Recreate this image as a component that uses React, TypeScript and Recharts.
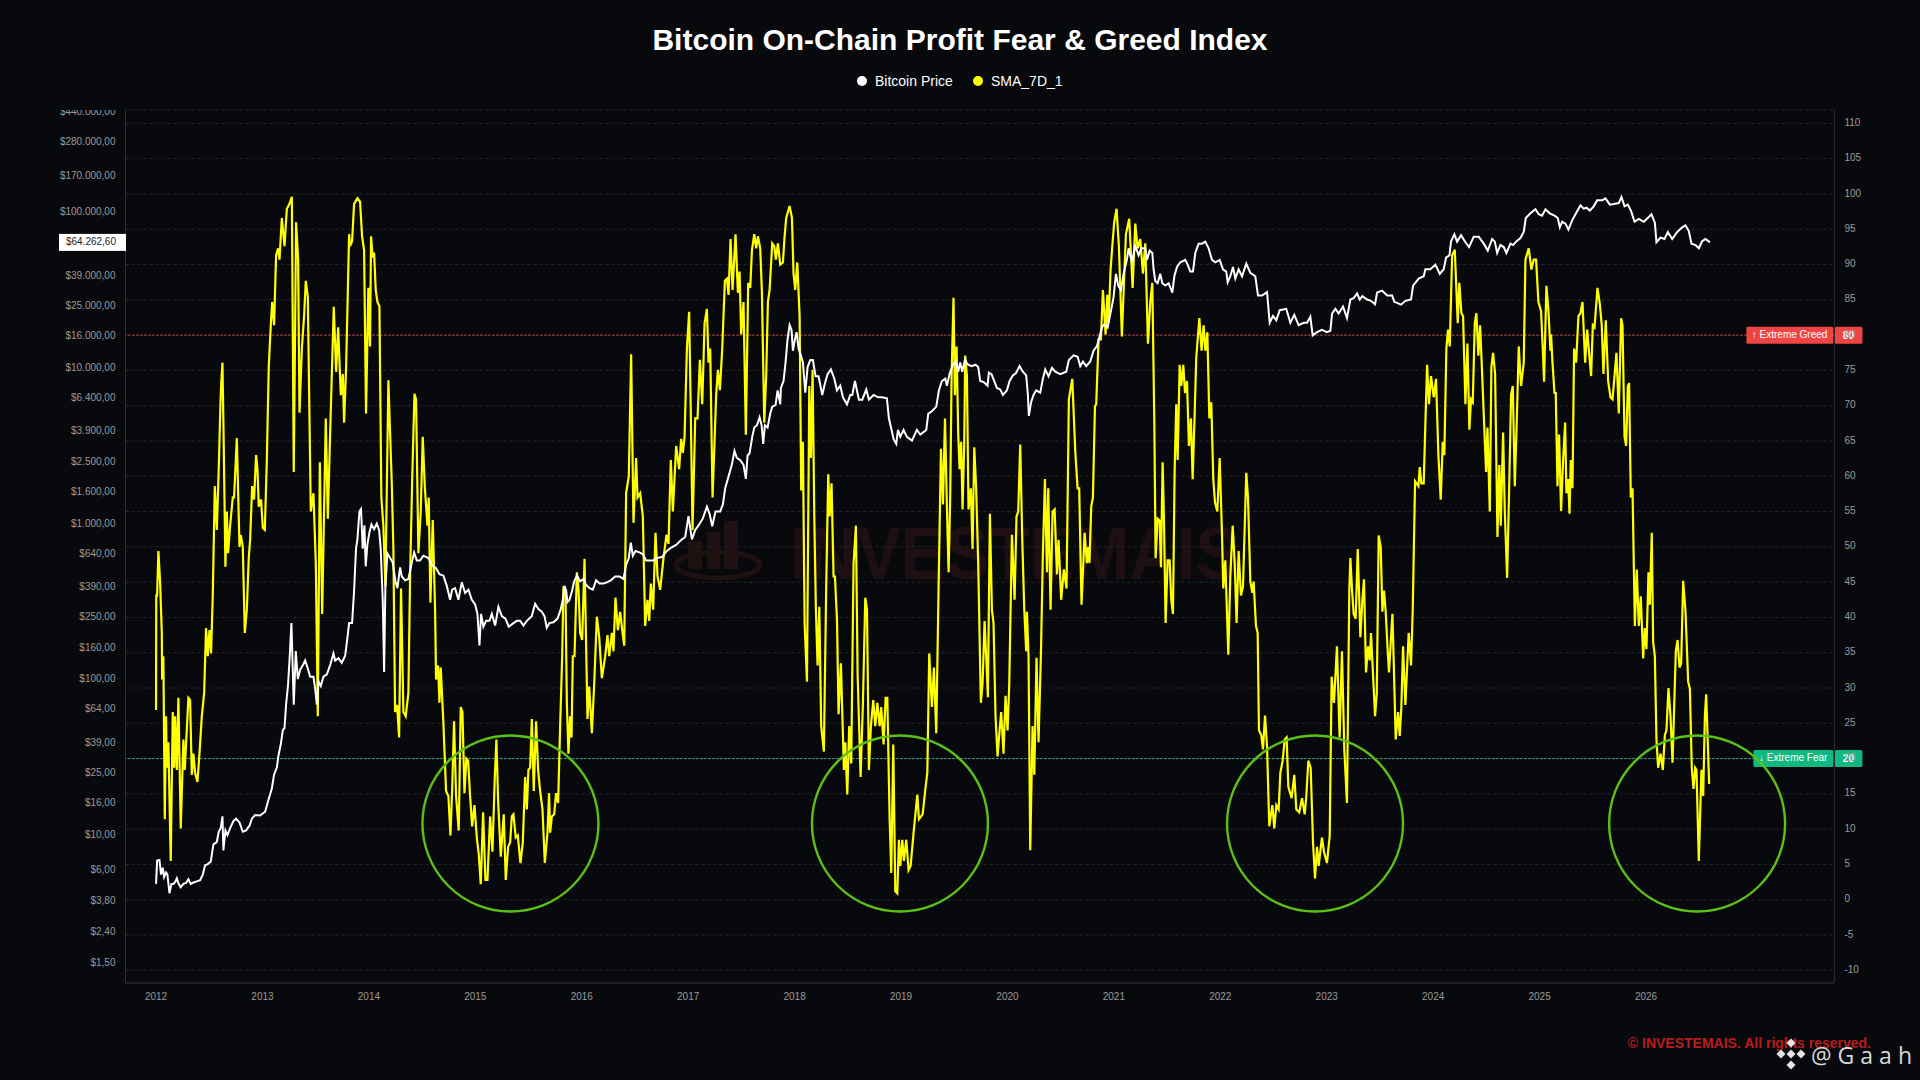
import { CartesianGrid, ComposedChart, Line, ReferenceDot, ReferenceLine, XAxis, YAxis } from "recharts";

const BG = "#08090c";
const AXIS_TEXT = "#9a9a9a";
const AXIS_LINE = "#2c2f33";
const GRID = "#26282c";
const YELLOW = "#ffff00";
const WHITE = "#ffffff";
const RED = "#ef4444";
const GREEN = "#10b981";
const FONT = "'Liberation Sans', Arial, sans-serif";

const yearTicks = [2012, 2013, 2014, 2015, 2016, 2017, 2018, 2019, 2020, 2021, 2022, 2023, 2024, 2025, 2026];
const indexTicks = [-10, -5, 0, 5, 10, 15, 20, 25, 30, 35, 40, 45, 50, 55, 60, 65, 70, 75, 80, 85, 90, 95, 100, 105, 110];
const priceTicks = [440000, 280000, 170000, 100000, 39000, 25000, 16000, 10000, 6400, 3900, 2500, 1600, 1000, 640, 390, 250, 160, 100, 64, 39, 25, 16, 10, 6, 3.8, 2.4, 1.5];
const priceTickLabels = ["$440.000,00", "$280.000,00", "$170.000,00", "$100.000,00", "$39.000,00", "$25.000,00", "$16.000,00", "$10.000,00", "$6.400,00", "$3.900,00", "$2.500,00", "$1.600,00", "$1.000,00", "$640,00", "$390,00", "$250,00", "$160,00", "$100,00", "$64,00", "$39,00", "$25,00", "$16,00", "$10,00", "$6,00", "$3,80", "$2,40", "$1,50"];

const X_DOMAIN = [2011.713, 2027.77];
const LAST_PRICE = 64262.6;
const fearGreedCircles = [
  { t: 2015.33, v: 10.8 },
  { t: 2018.99, v: 10.8 },
  { t: 2022.89, v: 10.8 },
  { t: 2026.48, v: 10.8 },
];

const priceDates = [
  2012.000, 2012.010, 2012.032, 2012.047, 2012.063, 2012.076, 2012.094, 2012.107, 2012.126, 2012.145, 2012.163, 2012.182, 2012.195, 2012.213, 2012.232, 2012.257, 2012.282, 2012.304, 2012.326, 2012.351,
  2012.376, 2012.414, 2012.439, 2012.461, 2012.483, 2012.514, 2012.539, 2012.571, 2012.589, 2012.608, 2012.624, 2012.633, 2012.652, 2012.671, 2012.696, 2012.727, 2012.752, 2012.784, 2012.815, 2012.846,
  2012.878, 2012.900, 2012.931, 2012.978, 2013.025, 2013.056, 2013.088, 2013.109, 2013.135, 2013.150, 2013.172, 2013.191, 2013.207, 2013.222, 2013.241, 2013.254, 2013.272, 2013.294, 2013.313, 2013.332,
  2013.354, 2013.379, 2013.401, 2013.423, 2013.448, 2013.479, 2013.495, 2013.511, 2013.526, 2013.548, 2013.573, 2013.605, 2013.636, 2013.667, 2013.683, 2013.714, 2013.745, 2013.777, 2013.799, 2013.814,
  2013.842, 2013.861, 2013.879, 2013.892, 2013.911, 2013.926, 2013.942, 2013.958, 2013.970, 2013.986, 2014.005, 2014.024, 2014.049, 2014.074, 2014.096, 2014.111, 2014.130, 2014.143, 2014.155, 2014.174,
  2014.199, 2014.224, 2014.249, 2014.268, 2014.293, 2014.309, 2014.340, 2014.371, 2014.403, 2014.425, 2014.450, 2014.481, 2014.512, 2014.559, 2014.591, 2014.631, 2014.663, 2014.700, 2014.732, 2014.763,
  2014.782, 2014.810, 2014.841, 2014.873, 2014.904, 2014.935, 2014.967, 2014.998, 2015.020, 2015.039, 2015.054, 2015.076, 2015.101, 2015.133, 2015.155, 2015.186, 2015.217, 2015.249, 2015.283, 2015.314,
  2015.358, 2015.390, 2015.421, 2015.452, 2015.484, 2015.530, 2015.562, 2015.593, 2015.624, 2015.650, 2015.671, 2015.696, 2015.734, 2015.772, 2015.803, 2015.822, 2015.838, 2015.853, 2015.866, 2015.885,
  2015.910, 2015.929, 2015.954, 2015.985, 2016.016, 2016.041, 2016.073, 2016.104, 2016.135, 2016.167, 2016.204, 2016.242, 2016.273, 2016.314, 2016.355, 2016.392, 2016.417, 2016.442, 2016.461, 2016.480,
  2016.505, 2016.543, 2016.574, 2016.605, 2016.637, 2016.674, 2016.706, 2016.753, 2016.800, 2016.837, 2016.887, 2016.931, 2016.972, 2017.003, 2017.035, 2017.066, 2017.097, 2017.138, 2017.176, 2017.201,
  2017.226, 2017.257, 2017.301, 2017.326, 2017.348, 2017.379, 2017.410, 2017.435, 2017.457, 2017.489, 2017.520, 2017.542, 2017.558, 2017.577, 2017.602, 2017.621, 2017.646, 2017.671, 2017.690, 2017.705,
  2017.721, 2017.746, 2017.771, 2017.790, 2017.821, 2017.840, 2017.865, 2017.871, 2017.896, 2017.915, 2017.934, 2017.953, 2017.971, 2017.984, 2018.003, 2018.019, 2018.037, 2018.059, 2018.078, 2018.100,
  2018.122, 2018.147, 2018.172, 2018.197, 2018.225, 2018.260, 2018.285, 2018.310, 2018.341, 2018.373, 2018.398, 2018.429, 2018.454, 2018.492, 2018.523, 2018.542, 2018.567, 2018.604, 2018.636, 2018.673,
  2018.698, 2018.742, 2018.786, 2018.821, 2018.867, 2018.886, 2018.908, 2018.930, 2018.955, 2018.971, 2018.993, 2019.024, 2019.055, 2019.102, 2019.149, 2019.181, 2019.237, 2019.256, 2019.290, 2019.331,
  2019.356, 2019.384, 2019.416, 2019.431, 2019.456, 2019.487, 2019.512, 2019.537, 2019.556, 2019.575, 2019.600, 2019.631, 2019.663, 2019.700, 2019.725, 2019.744, 2019.775, 2019.813, 2019.825, 2019.850,
  2019.876, 2019.901, 2019.932, 2019.957, 2019.995, 2020.020, 2020.051, 2020.079, 2020.114, 2020.145, 2020.176, 2020.192, 2020.201, 2020.223, 2020.245, 2020.270, 2020.308, 2020.333, 2020.355, 2020.386,
  2020.418, 2020.449, 2020.496, 2020.552, 2020.577, 2020.621, 2020.659, 2020.684, 2020.709, 2020.740, 2020.778, 2020.809, 2020.841, 2020.859, 2020.888, 2020.909, 2020.941, 2020.972, 2020.997, 2021.019,
  2021.041, 2021.066, 2021.091, 2021.122, 2021.138, 2021.169, 2021.201, 2021.232, 2021.257, 2021.295, 2021.311, 2021.336, 2021.361, 2021.373, 2021.389, 2021.411, 2021.436, 2021.455, 2021.483, 2021.514,
  2021.549, 2021.568, 2021.593, 2021.624, 2021.671, 2021.693, 2021.718, 2021.743, 2021.765, 2021.796, 2021.828, 2021.859, 2021.890, 2021.922, 2021.953, 2021.994, 2022.025, 2022.056, 2022.069, 2022.094,
  2022.119, 2022.141, 2022.172, 2022.204, 2022.244, 2022.282, 2022.329, 2022.354, 2022.392, 2022.439, 2022.464, 2022.495, 2022.526, 2022.558, 2022.620, 2022.658, 2022.695, 2022.736, 2022.783, 2022.815,
  2022.846, 2022.868, 2022.909, 2022.955, 2023.002, 2023.034, 2023.050, 2023.081, 2023.112, 2023.153, 2023.190, 2023.222, 2023.253, 2023.285, 2023.310, 2023.335, 2023.379, 2023.416, 2023.454, 2023.473,
  2023.520, 2023.567, 2023.614, 2023.636, 2023.698, 2023.739, 2023.792, 2023.811, 2023.864, 2023.911, 2023.927, 2023.974, 2024.021, 2024.062, 2024.099, 2024.121, 2024.153, 2024.168, 2024.199, 2024.225,
  2024.262, 2024.303, 2024.337, 2024.381, 2024.428, 2024.475, 2024.513, 2024.554, 2024.579, 2024.601, 2024.632, 2024.663, 2024.688, 2024.726, 2024.751, 2024.779, 2024.820, 2024.851, 2024.870, 2024.914,
  2024.961, 2024.992, 2025.023, 2025.055, 2025.095, 2025.140, 2025.171, 2025.190, 2025.212, 2025.243, 2025.271, 2025.306, 2025.346, 2025.384, 2025.415, 2025.440, 2025.472, 2025.509, 2025.541, 2025.588,
  2025.619, 2025.660, 2025.697, 2025.744, 2025.769, 2025.798, 2025.829, 2025.860, 2025.892, 2025.932, 2025.979, 2026.026, 2026.051, 2026.083, 2026.098, 2026.136, 2026.173, 2026.205, 2026.246, 2026.293,
  2026.340, 2026.371, 2026.402, 2026.427, 2026.465, 2026.496, 2026.527, 2026.559, 2026.600,
];
const priceValues = [
  4.89, 6.90, 6.97, 5.61, 6.22, 5.41, 5.80, 5.61, 4.26, 4.89, 4.89, 5.06, 5.31, 4.89, 4.66, 4.89, 4.96, 5.24, 4.89, 4.99,
  5.06, 5.17, 5.61, 6.44, 6.53, 6.80, 8.78, 9.08, 10.57, 11.17, 13.27, 8.02, 10.79, 10.07, 11.17, 12.38, 12.82, 12.13, 10.57, 10.79,
  11.56, 12.82, 13.54, 13.45, 14.21, 16.88, 20.05, 24.65, 27.3, 32.5, 38.5, 47.4, 49.0, 69.2, 94.4, 133, 231, 69.2, 152.9, 101,
  116, 124, 133, 120, 104.6, 104.6, 88, 69.2, 97.7, 91.1, 104.6, 108.3, 124, 147.6, 133, 137.8, 128.6, 142.6, 188, 231,
  231, 374, 694, 797, 1205, 1247, 694, 979, 535, 744, 883, 993, 927, 1007, 914, 694, 326, 112, 400.5, 648,
  605, 565, 429, 387, 527, 460, 435, 444, 565, 657, 584, 584, 626, 605, 546, 520, 476, 466, 400.5, 326,
  379, 387, 326, 423, 361, 379, 326, 304, 265, 166, 265, 219, 239, 239, 265, 223, 294, 256, 247, 219,
  231, 239, 239, 223, 239, 256, 308, 284, 274, 256, 216, 231, 234, 247, 284, 326, 400.5, 374, 315, 326,
  374, 429, 466, 429, 444, 406, 387, 379, 435, 415, 415, 423, 435, 460, 460, 444, 546, 605, 759, 626,
  671, 657, 639, 584, 584, 584, 605, 613, 671, 704, 734, 786, 825, 1124, 797, 914, 979, 1086, 1291, 1163,
  966, 1205, 1205, 1336, 1700, 2018, 2398, 2948, 2659, 2569, 2398, 1950, 2752, 2847, 3624, 4159, 4304, 4839, 4304, 3269,
  4304, 4159, 5115, 5668, 5792, 7216, 5870, 7467, 8280, 10902, 15380, 18922, 17650, 12950, 15380, 17040, 13403, 12090, 10902, 6972,
  10179, 11280, 11280, 8870, 8870, 6736, 8000, 9174, 9828, 8570, 7216, 7730, 6510, 5870, 6736, 6736, 8280, 6288, 6288, 7310,
  6288, 6736, 6510, 6510, 6420, 4768, 4102, 3502, 3269, 4018, 3624, 4018, 3624, 3431, 4018, 3750, 4018, 5115, 5294, 5668,
  7216, 8280, 8570, 7730, 9174, 10534, 11050, 9501, 10902, 9501, 11280, 10534, 10317, 10534, 10179, 8280, 8170, 7730, 9380, 9174,
  8280, 7467, 7310, 6736, 7216, 8280, 8990, 9290, 10317, 9501, 8990, 6736, 4940, 6080, 6736, 7216, 6972, 8570, 9828, 8870,
  10040, 9501, 9174, 9501, 11280, 12090, 11840, 10317, 11050, 10317, 11050, 12950, 13870, 15380, 18270, 19174, 18270, 23260, 28590, 40350,
  33960, 31700, 40350, 49600, 58900, 47900, 60970, 53130, 58900, 58900, 49600, 56920, 54990, 43200, 36370, 35150, 40350, 35150, 33960, 35150,
  30630, 38960, 44710, 47900, 49600, 46300, 41760, 41760, 54990, 63100, 63100, 64990, 58900, 49600, 47900, 49600, 43200, 41760, 35600, 38960,
  44710, 37660, 43200, 38960, 46950, 40930, 38960, 29290, 29290, 30820, 19580, 21700, 20280, 23590, 24070, 19580, 22000, 18920, 19580, 19580,
  21400, 16260, 17040, 17650, 17040, 17410, 22460, 24070, 22460, 24920, 20980, 27630, 28200, 30200, 27630, 29000, 27630, 27100, 25700, 30630,
  31500, 29290, 29290, 26690, 25600, 27100, 27630, 33960, 37660, 38960, 43200, 43200, 46300, 40350, 43200, 51320, 53130, 65330, 72450, 64990,
  71500, 64400, 60000, 69970, 69970, 63100, 56920, 67600, 64990, 54990, 61800, 60000, 54990, 63100, 61800, 64990, 68500, 75000, 92200, 98750,
  104800, 97400, 95400, 104800, 98750, 95400, 92200, 80350, 87200, 84850, 77600, 89000, 100100, 111000, 105800, 107300, 102900, 109500, 119700, 119700,
  123100, 112300, 113300, 114900, 125700, 109500, 112300, 102000, 87200, 91000, 87200, 93500, 97400, 86050, 64400, 69000, 67600, 75000, 67600, 75000,
  80350, 82700, 76000, 63100, 61800, 58900, 65330, 67600, 64262.6,
];

const smaDates = [
  2012.000, 2012.002, 2012.010, 2012.022, 2012.038, 2012.054, 2012.057, 2012.069, 2012.082, 2012.094, 2012.101, 2012.116, 2012.138, 2012.157, 2012.170, 2012.179, 2012.195, 2012.210, 2012.232, 2012.257,
  2012.270, 2012.304, 2012.320, 2012.336, 2012.351, 2012.367, 2012.389, 2012.408, 2012.430, 2012.452, 2012.470, 2012.486, 2012.502, 2012.517, 2012.533, 2012.552, 2012.571, 2012.589, 2012.605, 2012.611,
  2012.624, 2012.633, 2012.652, 2012.665, 2012.677, 2012.696, 2012.721, 2012.733, 2012.759, 2012.784, 2012.796, 2012.815, 2012.834, 2012.853, 2012.871, 2012.884, 2012.903, 2012.921, 2012.940, 2012.953,
  2012.965, 2012.987, 2013.003, 2013.022, 2013.041, 2013.059, 2013.078, 2013.091, 2013.109, 2013.128, 2013.147, 2013.160, 2013.182, 2013.207, 2013.229, 2013.254, 2013.276, 2013.294, 2013.316, 2013.335,
  2013.348, 2013.370, 2013.391, 2013.407, 2013.426, 2013.454, 2013.479, 2013.501, 2013.520, 2013.539, 2013.561, 2013.595, 2013.614, 2013.636, 2013.670, 2013.692, 2013.711, 2013.736, 2013.755, 2013.767,
  2013.786, 2013.814, 2013.823, 2013.842, 2013.861, 2013.892, 2013.917, 2013.936, 2013.955, 2013.973, 2013.995, 2014.011, 2014.020, 2014.036, 2014.049, 2014.064, 2014.080, 2014.099, 2014.117, 2014.136,
  2014.155, 2014.183, 2014.199, 2014.215, 2014.230, 2014.246, 2014.265, 2014.284, 2014.302, 2014.324, 2014.346, 2014.371, 2014.387, 2014.406, 2014.428, 2014.443, 2014.465, 2014.487, 2014.506, 2014.525,
  2014.550, 2014.562, 2014.578, 2014.600, 2014.622, 2014.631, 2014.650, 2014.663, 2014.675, 2014.700, 2014.725, 2014.747, 2014.766, 2014.782, 2014.800, 2014.819, 2014.844, 2014.863, 2014.879, 2014.898,
  2014.916, 2014.932, 2014.951, 2014.970, 2014.992, 2015.014, 2015.032, 2015.051, 2015.073, 2015.095, 2015.114, 2015.139, 2015.161, 2015.183, 2015.198, 2015.214, 2015.239, 2015.267, 2015.286, 2015.308,
  2015.327, 2015.343, 2015.358, 2015.380, 2015.399, 2015.424, 2015.446, 2015.468, 2015.484, 2015.499, 2015.515, 2015.531, 2015.549, 2015.571, 2015.590, 2015.609, 2015.631, 2015.653, 2015.678, 2015.693,
  2015.703, 2015.719, 2015.741, 2015.759, 2015.778, 2015.797, 2015.816, 2015.828, 2015.847, 2015.860, 2015.875, 2015.891, 2015.904, 2015.916, 2015.932, 2015.954, 2015.969, 2015.985, 2016.004, 2016.026,
  2016.054, 2016.070, 2016.095, 2016.117, 2016.142, 2016.164, 2016.189, 2016.220, 2016.242, 2016.258, 2016.283, 2016.298, 2016.317, 2016.339, 2016.361, 2016.380, 2016.399, 2016.417, 2016.442, 2016.464,
  2016.486, 2016.511, 2016.524, 2016.549, 2016.574, 2016.596, 2016.618, 2016.634, 2016.649, 2016.671, 2016.693, 2016.712, 2016.737, 2016.768, 2016.796, 2016.815, 2016.837, 2016.856, 2016.887, 2016.915,
  2016.934, 2016.950, 2016.966, 2016.988, 2017.009, 2017.022, 2017.041, 2017.066, 2017.088, 2017.110, 2017.132, 2017.154, 2017.176, 2017.191, 2017.207, 2017.229, 2017.263, 2017.279, 2017.298, 2017.320,
  2017.345, 2017.364, 2017.379, 2017.398, 2017.417, 2017.445, 2017.467, 2017.483, 2017.498, 2017.520, 2017.542, 2017.564, 2017.583, 2017.599, 2017.621, 2017.639, 2017.655, 2017.677, 2017.693, 2017.715,
  2017.733, 2017.749, 2017.765, 2017.790, 2017.809, 2017.824, 2017.843, 2017.865, 2017.890, 2017.906, 2017.921, 2017.953, 2017.975, 2017.990, 2018.006, 2018.025, 2018.047, 2018.062, 2018.078, 2018.094,
  2018.116, 2018.138, 2018.153, 2018.169, 2018.185, 2018.200, 2018.216, 2018.232, 2018.250, 2018.275, 2018.297, 2018.316, 2018.329, 2018.347, 2018.366, 2018.379, 2018.398, 2018.413, 2018.435, 2018.463,
  2018.476, 2018.495, 2018.513, 2018.532, 2018.554, 2018.576, 2018.592, 2018.620, 2018.642, 2018.664, 2018.680, 2018.698, 2018.717, 2018.739, 2018.758, 2018.777, 2018.799, 2018.814, 2018.836, 2018.855,
  2018.871, 2018.893, 2018.908, 2018.927, 2018.946, 2018.965, 2018.980, 2018.993, 2019.012, 2019.027, 2019.049, 2019.071, 2019.090, 2019.118, 2019.153, 2019.168, 2019.203, 2019.231, 2019.247, 2019.265,
  2019.290, 2019.309, 2019.331, 2019.353, 2019.375, 2019.394, 2019.413, 2019.431, 2019.447, 2019.462, 2019.475, 2019.493, 2019.506, 2019.522, 2019.537, 2019.550, 2019.565, 2019.578, 2019.594, 2019.603,
  2019.619, 2019.634, 2019.656, 2019.672, 2019.688, 2019.706, 2019.725, 2019.750, 2019.766, 2019.785, 2019.800, 2019.816, 2019.835, 2019.854, 2019.869, 2019.888, 2019.907, 2019.926, 2019.941, 2019.963,
  2019.982, 2020.001, 2020.017, 2020.042, 2020.067, 2020.085, 2020.101, 2020.120, 2020.139, 2020.158, 2020.176, 2020.183, 2020.198, 2020.214, 2020.236, 2020.252, 2020.273, 2020.292, 2020.314, 2020.333,
  2020.352, 2020.371, 2020.383, 2020.405, 2020.424, 2020.443, 2020.465, 2020.480, 2020.505, 2020.530, 2020.555, 2020.577, 2020.609, 2020.637, 2020.659, 2020.674, 2020.696, 2020.725, 2020.746, 2020.759,
  2020.771, 2020.787, 2020.803, 2020.822, 2020.834, 2020.856, 2020.878, 2020.897, 2020.922, 2020.938, 2020.950, 2020.969, 2020.985, 2021.003, 2021.025, 2021.047, 2021.075, 2021.091, 2021.113, 2021.144,
  2021.176, 2021.201, 2021.223, 2021.248, 2021.273, 2021.295, 2021.320, 2021.342, 2021.361, 2021.380, 2021.392, 2021.411, 2021.430, 2021.442, 2021.458, 2021.470, 2021.486, 2021.505, 2021.524, 2021.539,
  2021.555, 2021.571, 2021.586, 2021.599, 2021.618, 2021.633, 2021.652, 2021.668, 2021.687, 2021.705, 2021.724, 2021.740, 2021.759, 2021.774, 2021.803, 2021.824, 2021.843, 2021.859, 2021.878, 2021.897,
  2021.915, 2021.934, 2021.950, 2021.972, 2021.994, 2022.016, 2022.028, 2022.047, 2022.075, 2022.094, 2022.116, 2022.135, 2022.153, 2022.172, 2022.194, 2022.213, 2022.244, 2022.260, 2022.282, 2022.301,
  2022.313, 2022.335, 2022.351, 2022.363, 2022.385, 2022.401, 2022.420, 2022.439, 2022.460, 2022.489, 2022.507, 2022.526, 2022.548, 2022.564, 2022.586, 2022.605, 2022.623, 2022.639, 2022.670, 2022.695,
  2022.714, 2022.742, 2022.768, 2022.793, 2022.808, 2022.827, 2022.849, 2022.871, 2022.890, 2022.909, 2022.924, 2022.955, 2022.974, 2023.002, 2023.028, 2023.046, 2023.068, 2023.096, 2023.121, 2023.143,
  2023.165, 2023.190, 2023.212, 2023.222, 2023.238, 2023.253, 2023.272, 2023.291, 2023.303, 2023.316, 2023.335, 2023.350, 2023.369, 2023.388, 2023.404, 2023.416, 2023.435, 2023.454, 2023.470, 2023.488,
  2023.507, 2023.523, 2023.538, 2023.554, 2023.573, 2023.585, 2023.617, 2023.629, 2023.648, 2023.670, 2023.686, 2023.701, 2023.717, 2023.739, 2023.770, 2023.792, 2023.808, 2023.830, 2023.861, 2023.874,
  2023.889, 2023.911, 2023.927, 2023.943, 2023.961, 2023.980, 2024.005, 2024.027, 2024.049, 2024.071, 2024.090, 2024.105, 2024.124, 2024.140, 2024.156, 2024.178, 2024.203, 2024.231, 2024.246, 2024.265,
  2024.281, 2024.303, 2024.322, 2024.340, 2024.356, 2024.372, 2024.391, 2024.406, 2024.425, 2024.441, 2024.463, 2024.475, 2024.497, 2024.510, 2024.532, 2024.547, 2024.563, 2024.582, 2024.604, 2024.622,
  2024.635, 2024.657, 2024.673, 2024.695, 2024.713, 2024.732, 2024.748, 2024.767, 2024.785, 2024.804, 2024.826, 2024.851, 2024.867, 2024.898, 2024.923, 2024.945, 2024.967, 2024.989, 2025.014, 2025.030,
  2025.042, 2025.064, 2025.083, 2025.102, 2025.108, 2025.121, 2025.140, 2025.152, 2025.168, 2025.183, 2025.202, 2025.221, 2025.240, 2025.252, 2025.268, 2025.281, 2025.293, 2025.309, 2025.324, 2025.343,
  2025.365, 2025.384, 2025.403, 2025.428, 2025.447, 2025.465, 2025.484, 2025.500, 2025.516, 2025.544, 2025.566, 2025.584, 2025.600, 2025.622, 2025.644, 2025.666, 2025.685, 2025.704, 2025.722, 2025.744,
  2025.766, 2025.779, 2025.798, 2025.813, 2025.829, 2025.841, 2025.857, 2025.873, 2025.895, 2025.913, 2025.932, 2025.951, 2025.973, 2025.989, 2026.004, 2026.023, 2026.036, 2026.054, 2026.067, 2026.083,
  2026.098, 2026.114, 2026.136, 2026.158, 2026.177, 2026.192, 2026.211, 2026.230, 2026.249, 2026.280, 2026.296, 2026.315, 2026.330, 2026.349, 2026.371, 2026.396, 2026.412, 2026.430, 2026.446, 2026.462,
  2026.474, 2026.496, 2026.521, 2026.537, 2026.553, 2026.565, 2026.578, 2026.593,
];
const smaValues = [
  26.9, 43.1, 43.1, 49.4, 45.1, 37.8, 31.2, 34.5, 11.4, 26.0, 18.7, 22.3, 5.5, 26.6, 18.7, 26.0, 18.4, 28.6, 10.1, 22.7,
  18.4, 28.6, 28.3, 17.7, 20.7, 18.0, 16.7, 20.7, 26.0, 29.3, 38.5, 34.5, 38.2, 34.9, 43.1, 58.6, 52.4, 61.0, 70.2, 72.8,
  76.1, 67.6, 47.2, 55.0, 49.1, 53.0, 57.0, 57.0, 65.4, 50.0, 51.7, 50.0, 37.8, 41.1, 48.4, 51.0, 58.6, 56.7, 63.0, 61.0,
  55.7, 56.7, 52.7, 52.4, 62.3, 75.5, 81.4, 84.7, 81.4, 91.3, 92.3, 90.7, 96.6, 92.6, 97.9, 98.6, 99.6, 60.6, 96.0, 90.7,
  69.0, 78.1, 82.7, 87.7, 85.4, 55.0, 57.6, 47.7, 26.0, 62.0, 40.5, 68.2, 54.0, 66.2, 84.0, 74.8, 81.1, 71.5, 74.5, 67.6,
  75.5, 94.3, 92.6, 93.3, 98.6, 99.4, 98.9, 94.0, 92.0, 68.9, 86.7, 78.4, 94.0, 91.0, 91.7, 86.4, 84.7, 84.1, 57.0, 53.0,
  44.4, 73.6, 66.2, 59.0, 49.7, 26.6, 27.6, 23.0, 44.1, 26.6, 26.0, 29.3, 45.8, 59.0, 71.7, 70.9, 49.1, 55.0, 65.6, 58.6,
  53.0, 57.0, 42.1, 53.8, 41.1, 31.2, 33.2, 27.9, 32.9, 25.0, 15.4, 14.7, 9.1, 15.4, 25.3, 14.7, 9.8, 27.3, 26.6, 15.1,
  20.0, 19.7, 14.7, 10.4, 13.4, 8.8, 6.5, 2.2, 12.4, 2.8, 2.8, 11.8, 6.8, 17.4, 22.7, 14.1, 6.1, 12.1, 2.8, 7.5,
  8.1, 11.8, 12.1, 8.8, 9.1, 5.2, 8.1, 17.4, 12.8, 18.4, 18.7, 25.6, 15.4, 25.3, 18.4, 15.4, 12.8, 5.2, 9.5, 15.1,
  9.5, 11.8, 12.1, 15.1, 13.7, 24.6, 34.5, 44.4, 43.8, 27.9, 20.7, 26.0, 23.0, 34.5, 34.5, 46.4, 44.1, 37.8, 36.8, 48.3,
  25.6, 30.2, 23.6, 30.6, 40.1, 37.2, 31.4, 34.5, 37.5, 34.5, 37.8, 35.2, 42.8, 38.2, 40.8, 38.2, 36.0, 57.6, 60.0, 77.3,
  53.4, 62.6, 57.0, 57.6, 54.3, 38.8, 42.5, 39.5, 44.8, 41.1, 52.0, 45.8, 43.9, 48.4, 51.7, 50.4, 62.3, 55.0, 64.3, 61.0,
  65.3, 63.3, 65.6, 78.1, 83.3, 71.5, 52.4, 68.2, 68.2, 76.5, 70.2, 81.7, 83.7, 76.1, 78.1, 57.0, 71.5, 75.1, 72.2, 78.1,
  87.7, 88.0, 85.7, 93.6, 86.4, 94.3, 86.0, 89.0, 80.1, 84.7, 65.9, 87.4, 86.7, 92.0, 94.3, 92.3, 94.0, 92.3, 86.0, 67.6,
  74.2, 84.7, 86.4, 93.0, 92.6, 90.7, 93.0, 90.0, 90.3, 94.0, 96.6, 98.3, 96.6, 88.7, 86.4, 90.3, 82.7, 58.0, 64.9, 39.2,
  30.9, 72.8, 62.6, 75.1, 54.3, 41.1, 33.2, 41.5, 24.6, 21.0, 44.4, 60.3, 54.3, 59.0, 45.8, 45.8, 39.8, 26.3, 33.5, 18.4,
  22.3, 14.9, 24.6, 19.3, 47.7, 53.0, 31.9, 17.4, 27.9, 42.8, 41.1, 18.4, 24.6, 28.3, 24.6, 27.9, 24.6, 27.3, 22.0, 28.6,
  28.6, 11.4, 3.8, 22.0, 1.2, 0.9, 8.5, 4.8, 8.5, 5.5, 8.5, 4.2, 4.8, 9.5, 14.9, 11.4, 12.1, 16.0, 18.0, 34.9,
  27.3, 32.9, 23.6, 44.4, 63.9, 56.0, 68.2, 55.7, 46.4, 57.0, 74.2, 85.3, 71.5, 78.4, 66.2, 61.0, 64.9, 55.3, 64.9, 77.1,
  74.2, 55.3, 58.3, 49.7, 64.1, 58.3, 47.7, 27.9, 30.6, 39.5, 34.5, 28.7, 54.7, 41.1, 39.2, 26.0, 20.3, 24.0, 26.6, 20.7,
  28.9, 24.0, 30.6, 51.7, 42.5, 54.3, 55.0, 64.5, 51.0, 41.1, 35.2, 40.8, 34.5, 7.0, 24.6, 17.7, 34.3, 22.3, 34.5, 49.1,
  59.6, 46.4, 58.3, 41.1, 55.0, 55.3, 46.1, 51.0, 42.5, 46.8, 44.1, 70.9, 73.8, 63.6, 58.3, 58.3, 41.8, 52.0, 47.7, 50.0,
  47.7, 55.7, 57.0, 69.9, 70.2, 79.4, 79.4, 86.4, 80.1, 85.7, 81.7, 89.3, 92.6, 96.0, 97.9, 92.6, 79.8, 86.0, 94.3, 96.5,
  86.7, 95.8, 92.3, 93.6, 88.7, 93.0, 78.8, 84.7, 87.4, 67.6, 48.4, 54.0, 53.7, 47.1, 62.0, 54.3, 39.2, 48.1, 48.1, 42.5,
  40.5, 61.0, 70.2, 62.3, 75.8, 72.8, 75.8, 71.8, 73.5, 64.3, 68.2, 59.6, 68.9, 76.8, 82.4, 77.8, 81.4, 77.8, 80.4, 68.2,
  70.5, 59.6, 56.3, 55.0, 62.6, 51.7, 44.1, 48.1, 34.7, 45.8, 53.0, 47.7, 39.2, 49.4, 43.1, 44.4, 60.5, 57.0, 45.1, 43.5,
  45.1, 38.8, 37.8, 24.0, 23.3, 21.3, 26.1, 21.7, 10.4, 13.4, 10.1, 13.4, 12.8, 18.0, 19.7, 22.7, 23.0, 16.0, 14.4, 17.7,
  12.8, 12.4, 14.4, 12.1, 14.7, 19.7, 18.7, 8.1, 3.0, 7.5, 4.8, 8.8, 6.8, 5.2, 9.1, 31.6, 27.9, 35.9, 23.0, 35.2,
  21.3, 13.7, 43.8, 48.4, 43.8, 40.5, 39.8, 49.7, 43.8, 37.2, 42.5, 45.4, 32.2, 35.9, 33.9, 37.8, 31.9, 26.0, 29.3, 51.6,
  50.0, 40.8, 43.8, 40.8, 35.2, 32.2, 40.5, 33.9, 22.7, 26.6, 23.2, 27.3, 35.9, 27.6, 37.8, 33.2, 41.1, 59.3, 58.6, 61.3,
  59.0, 59.0, 67.6, 75.8, 70.2, 74.2, 71.2, 73.8, 63.0, 56.7, 64.9, 63.0, 78.1, 80.8, 78.4, 91.3, 92.1, 81.7, 87.4, 83.1,
  82.7, 70.2, 78.8, 66.6, 70.9, 70.5, 81.7, 83.1, 77.1, 81.4, 73.5, 68.9, 60.6, 66.9, 55.0, 75.5, 77.5, 74.5, 51.4, 61.6,
  53.0, 66.2, 55.0, 45.6, 57.6, 71.5, 72.8, 58.6, 67.6, 78.4, 72.8, 76.1, 90.7, 92.3, 89.3, 90.7, 90.7, 84.7, 83.4, 78.1,
  73.4, 87.0, 83.4, 77.8, 80.1, 76.1, 71.8, 71.8, 58.6, 65.9, 55.1, 62.3, 67.6, 57.6, 59.6, 54.7, 62.3, 58.3, 78.1, 76.1,
  82.7, 83.1, 84.7, 76.1, 80.8, 77.5, 74.2, 81.4, 81.1, 86.7, 84.4, 81.4, 74.5, 82.1, 73.5, 71.2, 70.9, 74.2, 77.5, 68.9,
  82.4, 81.4, 65.6, 64.3, 72.8, 73.2, 57.0, 58.3, 38.8, 46.8, 38.8, 43.0, 34.2, 38.5, 35.5, 46.4, 41.8, 52.0, 36.5, 34.5,
  22.7, 18.7, 20.7, 18.4, 23.3, 24.0, 30.0, 26.0, 19.4, 35.2, 36.8, 32.9, 33.5, 45.2, 40.8, 30.9, 29.9, 18.7, 15.7, 18.7,
  18.4, 5.5, 18.4, 14.7, 26.0, 29.1, 23.3, 16.4,
];

const priceRows = priceDates.map((t, i) => ({ t, price: priceValues[i] }));
const smaRows = smaDates.map((t, i) => ({ t, sma: smaValues[i] }));

const priceLabel = (v: number) => priceTickLabels[priceTicks.indexOf(v)] ?? "";

function ThresholdPill({ viewBox, text, tag, color }: any) {
  const right = viewBox.x + viewBox.width;
  const y = viewBox.y;
  const w = text.length > 14 ? 87 : 80;
  return (
    <g fontFamily={FONT}>
      <rect x={right - w - 1} y={y - 8.5} width={w} height={17} rx={1.5} fill={color} />
      <text x={right - 7} y={y + 2.5} textAnchor="end" fontSize={10} fill="#ffffff">{text}</text>
      <rect x={right + 0.5} y={y - 8.5} width={27.5} height={17} rx={1.5} fill={color} />
      <text x={right + 14} y={y + 3.5} textAnchor="middle" fontSize={10} fontWeight={700} fill="#ffffff">{tag}</text>
    </g>
  );
}

function PriceTag({ cy }: any) {
  return (
    <g fontFamily={FONT}>
      <rect x={59} y={cy - 8.5} width={67} height={17} fill="#ffffff" />
      <text x={116} y={cy + 3} textAnchor="end" fontSize={10} fill="#222222">$64.262,60</text>
    </g>
  );
}

function LegendRow() {
  const item = (left: number, color: string, label: string) => (
    <div key={label} style={{ position: "absolute", left, top: 73, height: 16, display: "flex", alignItems: "center", color: "#ffffff", fontFamily: FONT, fontSize: 14 }}>
      <span style={{ width: 10, height: 10, borderRadius: "50%", background: color, marginRight: 8 }} />
      {label}
    </div>
  );
  return (
    <>
      {item(857, WHITE, "Bitcoin Price")}
      {item(973, YELLOW, "SMA_7D_1")}
    </>
  );
}

function Watermark() {
  return (
    <svg width={1920} height={1080} style={{ position: "absolute", left: 0, top: 0 }}>
      <ellipse cx={718} cy={565} rx={42} ry={13} fill="none" stroke="#1f1012" strokeWidth={5} />
      <rect x={688} y={541} width={14} height={28} fill="#1f1012" />
      <rect x={707} y={532} width={13} height={37} fill="#1f1012" />
      <rect x={724} y={521} width={14} height={48} fill="#1f1012" />
      <text x={790} y={579} fontFamily={FONT} fontWeight={700} fontSize={75} fill="#1e1012" textLength={450} lengthAdjust="spacingAndGlyphs">INVESTEMAIS</text>
    </svg>
  );
}

function Signature() {
  const cells = [[1791, 1043], [1781, 1054], [1801, 1054], [1791, 1054], [1791, 1065]];
  return (
    <svg width={1920} height={1080} style={{ position: "absolute", left: 0, top: 0, pointerEvents: "none" }}>
      <text x={1871} y={1048} textAnchor="end" fontFamily={FONT} fontWeight={700} fontSize={14} fill="#b91c1c">© INVESTEMAIS. All rights reserved.</text>
      {cells.map(([x, y]) => (
        <path key={`${x}-${y}`} d={`M${x} ${y - 4.5}L${x + 4.5} ${y}L${x} ${y + 4.5}L${x - 4.5} ${y}Z`} fill="#e4e4e4" />
      ))}
      <text x={1811} y={1064} fontFamily="'Open Sans', sans-serif" fontSize={23} fill="#d8d8d8" letterSpacing={6}>@Gaah</text>
    </svg>
  );
}

export default function App() {
  return (
    <div style={{ position: "absolute", left: 0, top: 0, width: 1920, height: 1080, background: BG, overflow: "hidden" }}>
      <Watermark />
      <div style={{ position: "absolute", left: 0, top: 0 }}>
        <ComposedChart width={1920} height={1080} margin={{ top: 110, right: 0, bottom: 57, left: 0 }}>
          <XAxis
            xAxisId="time"
            dataKey="t"
            type="number"
            domain={X_DOMAIN}
            ticks={yearTicks}
            allowDataOverflow
            height={40}
            interval={0}
            tickLine={false}
            tickSize={0}
            tickMargin={10}
            stroke={AXIS_LINE}
            tick={{ fill: AXIS_TEXT, fontSize: 10, fontFamily: FONT }}
          />
          <YAxis
            yAxisId="price"
            orientation="left"
            scale="log"
            type="number"
            domain={[1.13, 455000]}
            ticks={priceTicks}
            allowDataOverflow
            interval={0}
            width={125.5}
            tickLine={false}
            tickSize={0}
            tickMargin={10}
            stroke={AXIS_LINE}
            tickFormatter={priceLabel}
            tick={{ fill: AXIS_TEXT, fontSize: 10, fontFamily: FONT, dy: -1 }}
          />
          <YAxis
            yAxisId="index"
            orientation="right"
            type="number"
            domain={[-11.8, 111.9]}
            ticks={indexTicks}
            allowDataOverflow
            interval={0}
            width={85.6}
            tickLine={false}
            tickSize={0}
            tickMargin={10}
            stroke={AXIS_LINE}
            tick={{ fill: AXIS_TEXT, fontSize: 10, fontFamily: FONT, dy: -1 }}
          />
          <CartesianGrid xAxisId="time" yAxisId="index" vertical={false} stroke={GRID} strokeDasharray="3 3" />
          <ReferenceLine xAxisId="time" yAxisId="index" y={80} stroke={RED} strokeDasharray="2 2" label={<ThresholdPill text="↑ Extreme Greed" tag="80" color={RED} />} />
          <ReferenceLine xAxisId="time" yAxisId="index" y={20} stroke="#2dd4a8" strokeDasharray="2 2" label={<ThresholdPill text="↓ Extreme Fear" tag="20" color={GREEN} />} />
          <Line xAxisId="time" yAxisId="index" data={smaRows} dataKey="sma" name="SMA_7D_1" type="linear" stroke={YELLOW} strokeWidth={2.2} dot={false} activeDot={false} isAnimationActive={false} />
          <Line xAxisId="time" yAxisId="price" data={priceRows} dataKey="price" name="Bitcoin Price" type="linear" stroke={WHITE} strokeWidth={2} dot={false} activeDot={false} isAnimationActive={false} />
          {fearGreedCircles.map((c) => (
            <ReferenceDot key={c.t} xAxisId="time" yAxisId="index" x={c.t} y={c.v} r={88} fill="none" stroke="#5cc016" strokeWidth={2.4} />
          ))}
          <ReferenceDot xAxisId="time" yAxisId="price" x={X_DOMAIN[0]} y={LAST_PRICE} r={0} shape={<PriceTag />} />
        </ComposedChart>
      </div>
      <div style={{ position: "absolute", left: 50, top: 0, width: 75, height: 110, background: BG }} />
      <div style={{ position: "absolute", left: 0, top: 20, width: 1920, textAlign: "center", color: "#ffffff", fontFamily: FONT, fontWeight: 700, fontSize: 30, lineHeight: "40px" }}>
        Bitcoin On-Chain Profit Fear &amp; Greed Index
      </div>
      <LegendRow />
      <Signature />
    </div>
  );
}
